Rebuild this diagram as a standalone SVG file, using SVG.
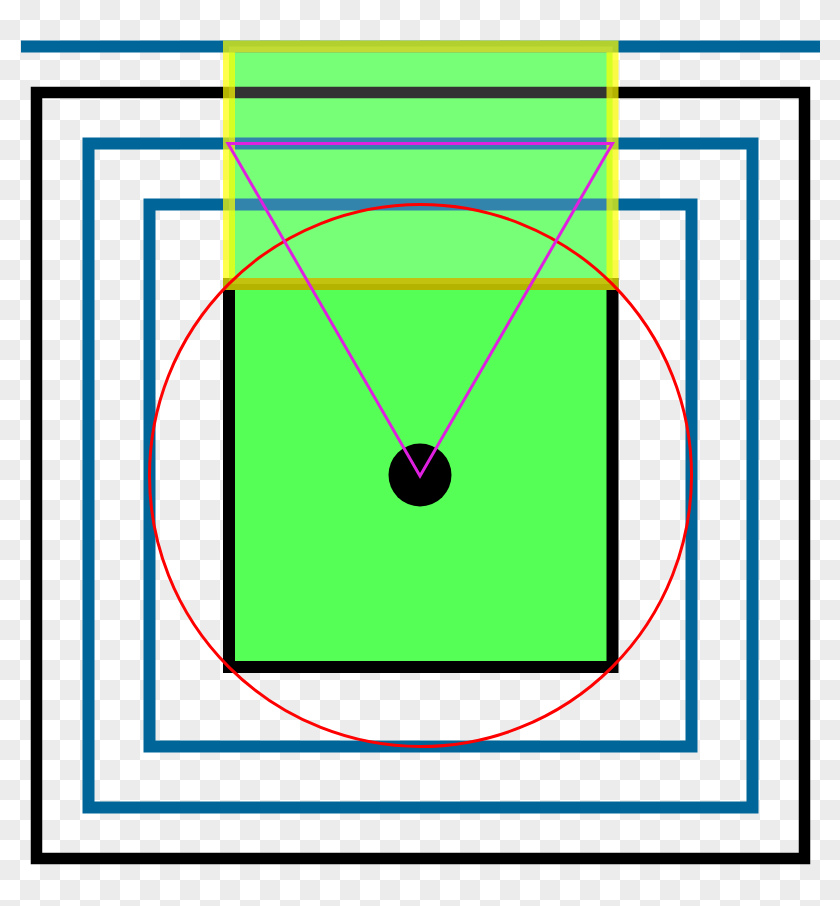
<svg xmlns="http://www.w3.org/2000/svg" width="840" height="906" viewBox="0 0 840 906">
  <defs>
    <pattern id="checker" patternUnits="userSpaceOnUse" x="0" y="0" width="40" height="40">
      <rect x="0" y="0" width="40" height="40" fill="#ffffff"/>
      <rect x="20" y="0" width="20" height="20" fill="#ececec"/>
      <rect x="0" y="20" width="20" height="20" fill="#ececec"/>
    </pattern>
  </defs>
  <style>
    .blue { fill: none; stroke: #006699; stroke-width: 12; }
    .black { fill: none; stroke: #000000; stroke-width: 11.5; }
    .green { fill: #55ff55; }
  </style>
  <rect id="background" x="0" y="0" width="840" height="906" fill="url(#checker)"/>
  <rect id="green-top-fill" class="green" x="229" y="46.5" width="383.5" height="237.5"/>
  <g id="frames">
    <line id="top-line" x1="21" y1="46.5" x2="820" y2="46.5" stroke="#006699" stroke-width="12"/>
    <rect id="outer-frame" class="black" x="36.5" y="92.5" width="768" height="766"/>
    <rect id="middle-frame" class="blue" x="88.5" y="143.5" width="664" height="664"/>
    <rect id="inner-frame" class="blue" x="149.5" y="204.5" width="542" height="542"/>
  </g>
  <rect id="green-square" class="green" x="229" y="284" width="383.5" height="383" stroke="#000000" stroke-width="12"/>
  <rect id="highlight" x="229" y="46.5" width="383.5" height="237.5" fill="#ffffff" fill-opacity="0.2" stroke="#ffff00" stroke-opacity="0.7" stroke-width="12"/>
  <circle id="red-circle" cx="420.5" cy="475.5" r="271" fill="none" stroke="#ff0000" stroke-width="3"/>
  <circle id="center-dot" cx="420" cy="475" r="31.5" fill="#000000"/>
  <polygon id="triangle" points="228,143.5 612.5,143.5 420,476" fill="none" stroke="#e020e0" stroke-width="3"/>
</svg>
